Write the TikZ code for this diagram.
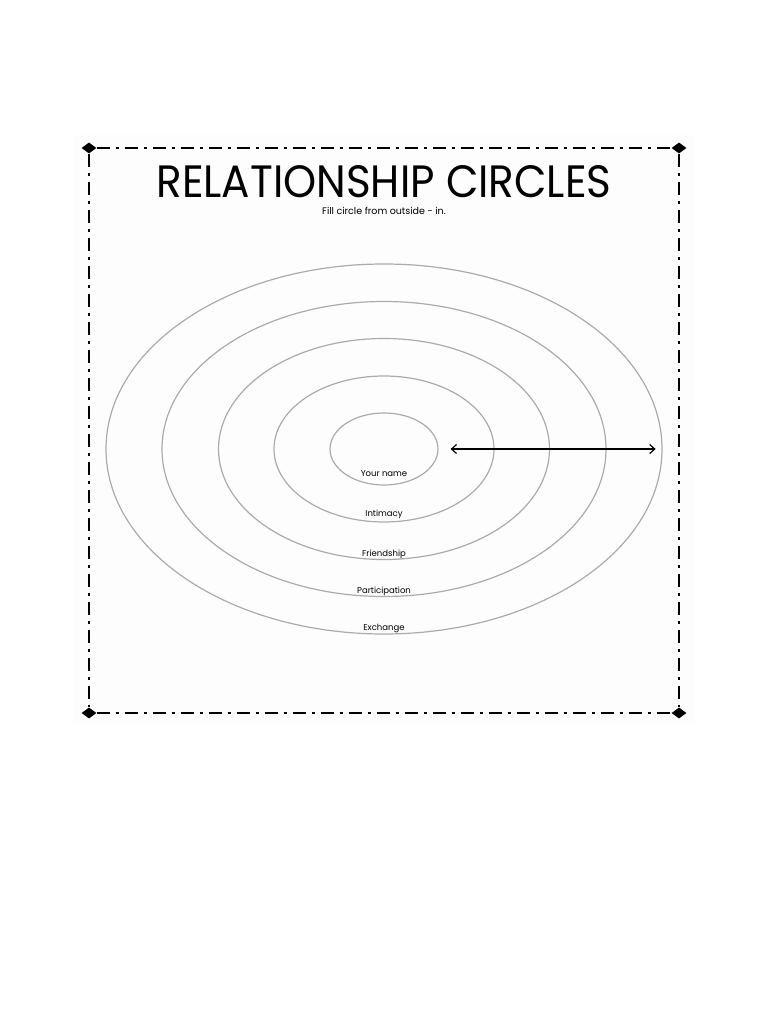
\documentclass[tikz,border=0pt]{standalone}
\usepackage{fontspec}
\usepackage{graphicx}
\usepackage{tikz}
\usetikzlibrary{arrows.meta}
\usetikzlibrary{shapes.geometric}
\newfontfamily\rcfont{Poppins}
\definecolor{ringgray}{HTML}{ABABAB}
\definecolor{paper}{HTML}{FDFDFD}
\tikzstyle{frame}=[line width=2pt,dash pattern=on 13pt off 6pt on 3pt off 6pt]
\tikzstyle{corner}=[diamond,fill=black,inner sep=0pt,minimum width=15pt,minimum height=11pt]
\tikzstyle{ring}=[ellipse,draw=ringgray,line width=1.2pt,inner sep=0pt]
\tikzstyle{lbl}=[font=\rcfont\fontsize{8.5}{9}\selectfont,inner sep=0pt]
\tikzstyle{span}=[line width=1.2pt,<->,>/.tip={Straight Barb[length=5pt,width=9pt]}]

\begin{document}
\begin{tikzpicture}[x=1pt,y=-1pt]
	\useasboundingbox (0,0) rectangle (768,1024);
	\fill[paper] (73,135) rectangle (695,723);
	\node[corner] (c-1-1) at (89,148) {};
	\node[corner] (c-1-2) at (679,148) {};
	\node[corner] (c-2-1) at (89,713) {};
	\node[corner] (c-2-2) at (679,713) {};
	\draw[frame] (c-1-1) -- (c-1-2);
	\draw[frame] (c-1-1) -- (c-2-1);
	\draw[frame] (c-1-2) -- (c-2-2);
	\draw[frame] (c-2-1) -- (c-2-2);
	\node[inner sep=0pt] (title) at (384,182) {\resizebox{455pt}{32pt}{\rcfont RELATIONSHIP CIRCLES}};
	\node[lbl,font=\rcfont\fontsize{9.5}{10}\selectfont] (subtitle) at (384,210.5) {Fill circle from outside - in.};
	\node[ring,minimum width=556pt,minimum height=370pt] (exchange) at (384,449) {};
	\node[ring,minimum width=444pt,minimum height=295pt] (participation) at (384,449) {};
	\node[ring,minimum width=331pt,minimum height=221pt] (friendship) at (384,449) {};
	\node[ring,minimum width=220pt,minimum height=146pt] (intimacy) at (384,449) {};
	\node[ring,minimum width=108pt,minimum height=72pt] (you) at (384,449) {};
	\node[lbl] (you-l) at ([yshift=12pt]you.south) {Your name};
	\node[lbl] (intimacy-l) at ([yshift=8pt]intimacy.south) {Intimacy};
	\node[lbl] (friendship-l) at ([yshift=6pt]friendship.south) {Friendship};
	\node[lbl] (participation-l) at ([yshift=6pt]participation.south) {Participation};
	\node[lbl] (exchange-l) at ([yshift=6pt]exchange.south) {Exchange};
	\coordinate (span-l) at ([xshift=12pt]you.east);
	\coordinate (span-r) at ([xshift=-7pt]exchange.east);
	\draw[span] (span-l) -- (span-r);
\end{tikzpicture}
\end{document}
